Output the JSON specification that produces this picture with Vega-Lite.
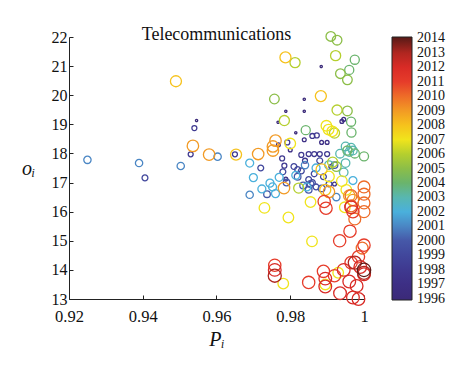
{
  "$schema": "https://vega.github.io/schema/vega-lite/v6.json",
  "width": 295,
  "height": 262,
  "autosize": {"type": "none"},
  "padding": {"left": 69, "top": 37, "right": 110, "bottom": 73},
  "background": "white",
  "title": {"text": "Telecommunications", "font": "Liberation Serif", "fontSize": 18, "fontWeight": "normal", "color": "#111", "offset": -15},
  "config": {
    "view": {"stroke": null},
    "axis": {"grid": false, "domainColor": "#222", "tickColor": "#222", "labelFont": "Liberation Serif", "labelFontSize": 16.5, "labelColor": "#111", "titleFont": "Liberation Serif", "titleFontStyle": "italic", "titleFontWeight": "normal", "titleFontSize": 20, "titleColor": "#111", "tickSize": -4}
  },
  "data": {"values": [
    {"p": 0.9546, "o": 19.13, "year": 1996},
    {"p": 0.9767, "o": 19.07, "year": 1996},
    {"p": 0.9788, "o": 19.45, "year": 1996},
    {"p": 0.9815, "o": 18.71, "year": 1996},
    {"p": 0.9838, "o": 19.86, "year": 1996},
    {"p": 0.9838, "o": 19.45, "year": 1996},
    {"p": 0.9884, "o": 20.99, "year": 1996},
    {"p": 0.980, "o": 18.12, "year": 1997},
    {"p": 0.9838, "o": 18.47, "year": 1997},
    {"p": 0.9885, "o": 18.38, "year": 1997},
    {"p": 0.990, "o": 18.38, "year": 1997},
    {"p": 0.9788, "o": 17.12, "year": 1997},
    {"p": 0.994, "o": 19.1, "year": 1997},
    {"p": 0.9945, "o": 19.17, "year": 1997},
    {"p": 0.9768, "o": 18.3, "year": 1997},
    {"p": 0.992, "o": 16.95, "year": 1997},
    {"p": 0.991, "o": 17.55, "year": 1997},
    {"p": 0.953, "o": 17.97, "year": 1998},
    {"p": 0.954, "o": 18.87, "year": 1998},
    {"p": 0.965, "o": 17.97, "year": 1998},
    {"p": 0.9792, "o": 18.38, "year": 1998},
    {"p": 0.9778, "o": 17.83, "year": 1998},
    {"p": 0.9784, "o": 17.58, "year": 1998},
    {"p": 0.983, "o": 17.95, "year": 1998},
    {"p": 0.985, "o": 17.98, "year": 1998},
    {"p": 0.9865, "o": 17.98, "year": 1998},
    {"p": 0.988, "o": 17.98, "year": 1998},
    {"p": 0.990, "o": 17.98, "year": 1998},
    {"p": 0.984, "o": 17.75, "year": 1998},
    {"p": 0.986, "o": 18.6, "year": 1998},
    {"p": 0.9872, "o": 18.62, "year": 1998},
    {"p": 0.9406, "o": 17.16, "year": 1999},
    {"p": 0.972, "o": 17.5, "year": 1999},
    {"p": 0.978, "o": 17.37, "year": 1999},
    {"p": 0.981, "o": 17.55, "year": 1999},
    {"p": 0.982, "o": 17.45, "year": 1999},
    {"p": 0.983, "o": 17.4, "year": 1999},
    {"p": 0.985, "o": 17.1, "year": 1999},
    {"p": 0.986, "o": 17.0, "year": 1999},
    {"p": 0.987, "o": 16.85, "year": 1999},
    {"p": 0.989, "o": 17.2, "year": 1999},
    {"p": 0.9905, "o": 16.95, "year": 1999},
    {"p": 0.988, "o": 17.75, "year": 1999},
    {"p": 0.9865, "o": 17.3, "year": 1999},
    {"p": 0.9737, "o": 16.6, "year": 2000},
    {"p": 0.9835, "o": 16.9, "year": 2000},
    {"p": 0.9855, "o": 16.95, "year": 2000},
    {"p": 0.9885, "o": 16.8, "year": 2000},
    {"p": 0.992, "o": 17.6, "year": 2000},
    {"p": 0.982, "o": 17.2, "year": 2000},
    {"p": 0.985, "o": 16.75, "year": 2000},
    {"p": 0.979, "o": 17.0, "year": 2000},
    {"p": 0.925, "o": 17.78, "year": 2001},
    {"p": 0.939, "o": 17.67, "year": 2001},
    {"p": 0.9503, "o": 17.57, "year": 2001},
    {"p": 0.9603, "o": 17.89, "year": 2001},
    {"p": 0.969, "o": 16.58, "year": 2001},
    {"p": 0.984, "o": 17.6, "year": 2001},
    {"p": 0.9925, "o": 16.5, "year": 2001},
    {"p": 0.969, "o": 17.67, "year": 2002},
    {"p": 0.970, "o": 17.17, "year": 2002},
    {"p": 0.9723, "o": 16.78, "year": 2002},
    {"p": 0.9745, "o": 16.98, "year": 2002},
    {"p": 0.9752, "o": 16.85, "year": 2002},
    {"p": 0.976, "o": 16.62, "year": 2002},
    {"p": 0.977, "o": 17.18, "year": 2002},
    {"p": 0.9815, "o": 17.25, "year": 2002},
    {"p": 0.9845, "o": 16.85, "year": 2002},
    {"p": 0.987, "o": 17.5, "year": 2002},
    {"p": 0.997, "o": 17.07, "year": 2002},
    {"p": 0.995, "o": 18.24, "year": 2003},
    {"p": 0.996, "o": 18.05, "year": 2003},
    {"p": 0.9965, "o": 18.2, "year": 2003},
    {"p": 0.995, "o": 17.67, "year": 2003},
    {"p": 0.9945, "o": 17.35, "year": 2003},
    {"p": 0.997, "o": 18.1, "year": 2003},
    {"p": 0.9935, "o": 17.99, "year": 2003},
    {"p": 0.9905, "o": 17.6, "year": 2003},
    {"p": 0.9975, "o": 21.22, "year": 2004},
    {"p": 0.996, "o": 20.87, "year": 2004},
    {"p": 0.9965, "o": 19.09, "year": 2004},
    {"p": 0.9966, "o": 18.72, "year": 2004},
    {"p": 0.9842, "o": 18.8, "year": 2004},
    {"p": 1.0, "o": 17.9, "year": 2004},
    {"p": 0.9975, "o": 18.0, "year": 2004},
    {"p": 0.9955, "o": 18.1, "year": 2004},
    {"p": 0.991, "o": 22.02, "year": 2005},
    {"p": 0.9927, "o": 21.89, "year": 2005},
    {"p": 0.9936, "o": 20.74, "year": 2005},
    {"p": 0.9955, "o": 20.53, "year": 2005},
    {"p": 0.9955, "o": 19.46, "year": 2005},
    {"p": 0.9757, "o": 19.87, "year": 2005},
    {"p": 0.9925, "o": 17.55, "year": 2005},
    {"p": 0.9923, "o": 21.36, "year": 2006},
    {"p": 0.9813, "o": 21.12, "year": 2006},
    {"p": 0.9927, "o": 19.49, "year": 2006},
    {"p": 0.9784, "o": 19.13, "year": 2006},
    {"p": 0.992, "o": 18.7, "year": 2006},
    {"p": 0.9823, "o": 16.81, "year": 2006},
    {"p": 0.9915, "o": 17.7, "year": 2006},
    {"p": 0.9898, "o": 18.95, "year": 2007},
    {"p": 0.9904, "o": 18.82, "year": 2007},
    {"p": 0.9914, "o": 18.76, "year": 2007},
    {"p": 0.980, "o": 18.34, "year": 2007},
    {"p": 0.973, "o": 16.13, "year": 2007},
    {"p": 0.9795, "o": 15.8, "year": 2007},
    {"p": 0.9781, "o": 13.53, "year": 2007},
    {"p": 0.9855, "o": 16.33, "year": 2007},
    {"p": 0.9859, "o": 14.98, "year": 2007},
    {"p": 0.9905, "o": 17.21, "year": 2007},
    {"p": 0.994, "o": 17.05, "year": 2007},
    {"p": 0.9952, "o": 16.75, "year": 2007},
    {"p": 0.9948, "o": 16.15, "year": 2007},
    {"p": 0.9895, "o": 13.5, "year": 2007},
    {"p": 0.993, "o": 13.9, "year": 2007},
    {"p": 0.949, "o": 20.48, "year": 2008},
    {"p": 0.9787, "o": 21.3, "year": 2008},
    {"p": 0.9653, "o": 17.96, "year": 2008},
    {"p": 0.9883, "o": 19.97, "year": 2008},
    {"p": 0.9885, "o": 17.45, "year": 2008},
    {"p": 0.9895, "o": 16.75, "year": 2008},
    {"p": 0.9536, "o": 18.26, "year": 2009},
    {"p": 0.958, "o": 17.96, "year": 2009},
    {"p": 0.9713, "o": 17.98, "year": 2009},
    {"p": 0.976, "o": 18.44, "year": 2009},
    {"p": 0.9753, "o": 18.24, "year": 2009},
    {"p": 0.9753, "o": 18.1, "year": 2009},
    {"p": 0.9783, "o": 16.81, "year": 2009},
    {"p": 0.9905, "o": 16.68, "year": 2009},
    {"p": 0.996, "o": 16.55, "year": 2009},
    {"p": 0.997, "o": 16.4, "year": 2009},
    {"p": 1.0, "o": 16.85, "year": 2010},
    {"p": 1.0, "o": 16.6, "year": 2010},
    {"p": 1.0, "o": 16.3, "year": 2010},
    {"p": 1.0, "o": 16.0, "year": 2010},
    {"p": 0.9965, "o": 16.2, "year": 2010},
    {"p": 0.9975, "o": 15.75, "year": 2010},
    {"p": 0.9965, "o": 16.55, "year": 2010},
    {"p": 0.9995, "o": 14.75, "year": 2010},
    {"p": 0.9892, "o": 16.35, "year": 2011},
    {"p": 0.9897, "o": 16.12, "year": 2011},
    {"p": 0.9934, "o": 15.0, "year": 2011},
    {"p": 0.9962, "o": 15.33, "year": 2011},
    {"p": 0.9758, "o": 14.16, "year": 2011},
    {"p": 0.985, "o": 13.57, "year": 2011},
    {"p": 0.989, "o": 13.95, "year": 2011},
    {"p": 0.992, "o": 13.8, "year": 2011},
    {"p": 0.9965, "o": 14.25, "year": 2011},
    {"p": 0.9985, "o": 14.45, "year": 2011},
    {"p": 0.997, "o": 16.0, "year": 2011},
    {"p": 1.0, "o": 14.85, "year": 2011},
    {"p": 0.9758, "o": 14.0, "year": 2012},
    {"p": 0.9895, "o": 13.7, "year": 2012},
    {"p": 0.9895, "o": 13.43, "year": 2012},
    {"p": 0.9935, "o": 13.2, "year": 2012},
    {"p": 0.9945, "o": 14.0, "year": 2012},
    {"p": 0.996, "o": 13.6, "year": 2012},
    {"p": 0.997, "o": 13.05, "year": 2012},
    {"p": 0.9985, "o": 13.0, "year": 2012},
    {"p": 0.998, "o": 13.45, "year": 2012},
    {"p": 0.999, "o": 14.1, "year": 2012},
    {"p": 1.0, "o": 13.85, "year": 2012},
    {"p": 0.9965, "o": 16.15, "year": 2012},
    {"p": 0.9758, "o": 13.8, "year": 2013},
    {"p": 1.0, "o": 13.9, "year": 2013},
    {"p": 0.9975, "o": 14.25, "year": 2013},
    {"p": 1.0, "o": 14.0, "year": 2014}
  ]},
  "mark": {"type": "point", "filled": false, "strokeWidth": 1.3, "opacity": 1, "clip": false},
  "encoding": {
    "x": {"field": "p", "type": "quantitative", "title": "Pᵢ",
      "scale": {"domain": [0.92, 1.0], "nice": false, "zero": false},
      "axis": {"values": [0.92, 0.94, 0.96, 0.98, 1.0], "format": "~g", "labelPadding": 13, "titlePadding": 5, "labelFlush": false}},
    "y": {"field": "o", "type": "quantitative", "title": "oᵢ",
      "scale": {"domain": [13, 22], "nice": false, "zero": false},
      "axis": {"values": [13, 14, 15, 16, 17, 18, 19, 20, 21, 22], "labelPadding": 6, "labelFontSize": 16, "titleAngle": 0, "titleAlign": "center", "titleBaseline": "middle", "titleX": -41, "titleY": 131, "labelFlush": false}},
    "color": {"field": "year", "type": "quantitative",
      "scale": {"domain": [1995.9, 1997, 1998, 1999, 2000, 2001, 2002, 2003, 2004, 2005, 2006, 2007, 2008, 2009, 2010, 2011, 2012, 2013, 2014.1],
        "range": ["#3b2a78", "#3d2f85", "#3f3990", "#41479c", "#4658a8", "#4a86c4", "#4ab0dc", "#58b7b0", "#6ab46c", "#8cbe48", "#b5cf2e", "#f0e41c", "#f6c21c", "#f29a24", "#ee6c28", "#e63c2a", "#d92b26", "#b02620", "#561a16"]},
      "legend": {"title": null, "orient": "right", "offset": 28, "direction": "vertical", "gradientLength": 263, "gradientThickness": 20, "gradientStrokeColor": "#222", "gradientStrokeWidth": 1, "values": [1996, 1997, 1998, 1999, 2000, 2001, 2002, 2003, 2004, 2005, 2006, 2007, 2008, 2009, 2010, 2011, 2012, 2013, 2014], "format": "d", "labelFont": "Liberation Serif", "labelFontSize": 14, "labelColor": "#111", "labelOverlap": false, "labelOffset": 5}},
    "size": {"field": "year", "type": "quantitative", "scale": {"domain": [1996, 2014], "range": [5, 180]}, "legend": null}
  }
}
